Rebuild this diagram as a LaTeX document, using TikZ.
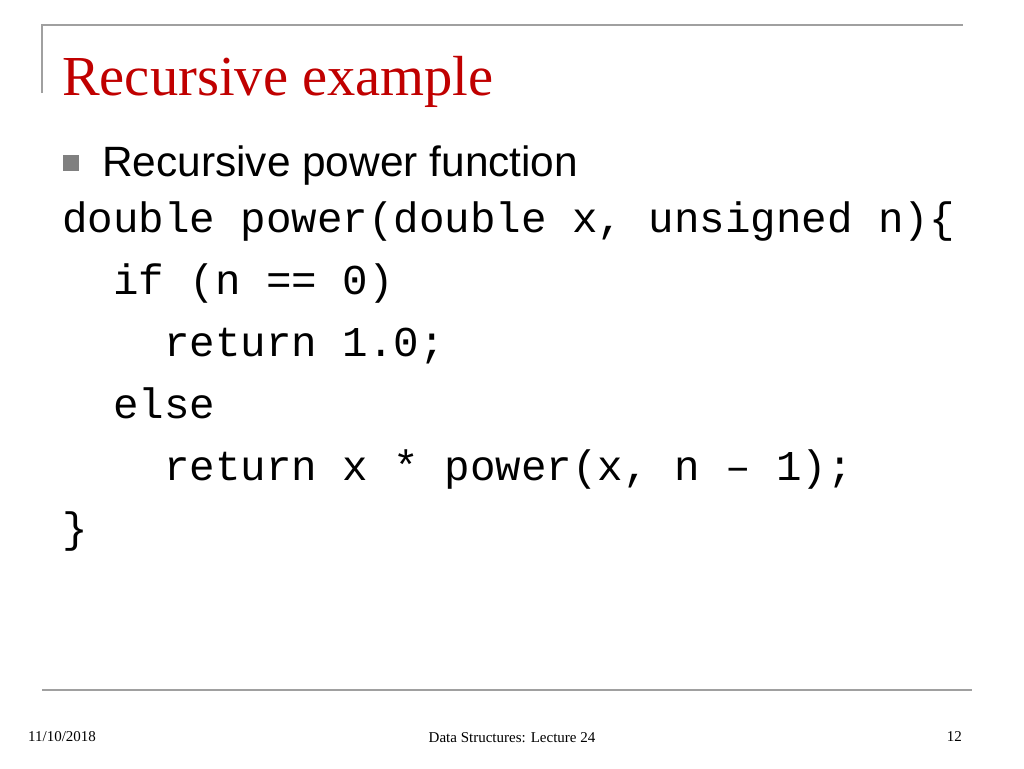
\documentclass[tikz,border=0pt]{standalone}
\usepackage{fontspec}
\setmainfont{Liberation Serif}
\newfontfamily\arialf{Liberation Sans}
\newfontfamily\monof{Liberation Mono}
\definecolor{titlered}{HTML}{C00000}
\definecolor{rulegray}{HTML}{A0A0A0}
\definecolor{bulletgray}{HTML}{808080}
\begin{document}
\begin{tikzpicture}[x=1pt,y=-1pt,
  code/.style={anchor=base west,inner sep=0pt,font=\monof\fontsize{42.5}{50}\selectfont},
  foot/.style={anchor=base,inner sep=0pt,font=\fontsize{15}{17}\selectfont}]
\useasboundingbox[fill=white] (0,0) rectangle (1024,768);
\draw[rulegray,line width=2pt] (42,93) -- (42,25) -- (963,25);
\draw[rulegray,line width=2pt] (42,690) -- (972,690);
\node[anchor=base west,inner sep=0pt,text=titlered,font=\fontsize{56.5}{62}\selectfont] (title) at (62,95) {Recursive example};
\fill[bulletgray] (63,155) rectangle (79,171);
\node[anchor=base west,inner sep=0pt,font=\arialf\fontsize{42.4}{48}\selectfont] (bul) at (102,176) {Recursive power function};
\node[code] (l1) at (62,232) {double power(double x, unsigned n)\{};
\node[code] (l2) at (113,294) {if (n == 0)};
\node[code] (l3) at (164,356) {return 1.0;};
\node[code] (l4) at (113,418) {else};
\node[code] (l5) at (164,480) {return x * power(x, n – 1);};
\node[code] (l6) at (62,542) {\}};
\node[foot,anchor=base west] (date) at (28,741) {11/10/2018};
\node[foot] (course) at (512,742) {Data Structures: Lecture 24};
\node[foot,anchor=base east] (page) at (962,741) {12};
\end{tikzpicture}
\end{document}
